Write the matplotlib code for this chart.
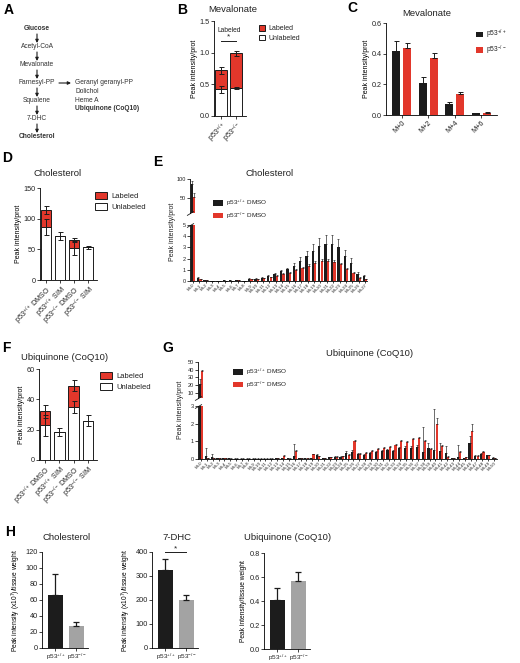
import numpy as np
import matplotlib.pyplot as plt
from matplotlib.patches import Patch

plt.rcParams['font.family'] = ['Liberation Sans', 'DejaVu Sans']
plt.rcParams['mathtext.default'] = 'regular'
plt.rcParams['axes.linewidth'] = 0.6
plt.rcParams['text.color'] = '#222222'

RED = '#e2372b'
BLACK = '#1c1c1c'
GREY = '#a3a3a3'

WT = r'p53$^{+/+}$'
KO = r'p53$^{-/-}$'

# ---- A: pathway
path_main = ['Glucose', 'Acetyl-CoA', 'Mevalonate', 'Farnesyl-PP', 'Squalene', '7-DHC', 'Cholesterol']
path_branch = ['Geranyl geranyl-PP', 'Dolichol', 'Heme A', 'Ubiquinone (CoQ10)']

# ---- B: mevalonate labeled / unlabeled
b_groups = [WT, KO]
b_unl = [0.42, 0.44]
b_unl_err = [0.05, 0.02]
b_lab = [0.30, 0.55]
b_tot_err = [0.05, 0.04]

# ---- C: mevalonate isotopologues
c_labels = ['M+0', 'M+2', 'M+4', 'M+6']
c_wt = [0.42, 0.21, 0.07, 0.01]
c_wt_err = [0.065, 0.035, 0.015, 0.003]
c_ko = [0.44, 0.37, 0.14, 0.015]
c_ko_err = [0.03, 0.035, 0.01, 0.004]

# ---- D: cholesterol labeled / unlabeled
d_groups = [WT + ' DMSO', WT + ' SIM', KO + ' DMSO', KO + ' SIM']
d_unl = [86, 72, 52, 53]
d_unl_err = [13, 7, 12, 3]
d_lab = [28, 0, 13, 0]
d_tot_err = [7, 0, 3, 0]

# ---- E: cholesterol isotopologues
e_labels = ['M+%d' % i for i in range(28)]
e_wt = [86, 0.3, 0.08, 0.03, 0.02, 0.05, 0.06, 0.1, 0.03, 0.2, 0.22, 0.3, 0.45, 0.6,
        0.85, 1.05, 1.35, 1.75, 2.2, 2.7, 3.1, 3.3, 3.3, 3.0, 2.25, 1.65, 0.65, 0.45]
e_wt_err = [10, 0.06, 0.02, 0.01, 0.01, 0.01, 0.01, 0.02, 0.01, 0.05, 0.05, 0.06, 0.08, 0.1,
            0.12, 0.15, 0.22, 0.35, 0.45, 0.6, 0.7, 0.85, 0.8, 0.75, 0.55, 0.4, 0.15, 0.1]
e_ko = [52, 0.15, 0.05, 0.02, 0.02, 0.03, 0.03, 0.05, 0.02, 0.15, 0.18, 0.25, 0.35, 0.45,
        0.6, 0.75, 0.95, 1.15, 1.35, 1.6, 1.75, 1.75, 1.7, 1.5, 1.05, 0.7, 0.3, 0.15]
e_ko_err = [10, 0.03, 0.01, 0.01, 0.01, 0.01, 0.01, 0.01, 0.01, 0.03, 0.03, 0.04, 0.05, 0.06,
            0.08, 0.08, 0.1, 0.12, 0.15, 0.17, 0.18, 0.18, 0.18, 0.15, 0.12, 0.08, 0.05, 0.04]

# ---- F: ubiquinone labeled / unlabeled
f_groups = d_groups
f_unl = [23, 18.5, 35, 26]
f_unl_err = [7, 2.5, 4, 3.5]
f_lab = [9, 0, 14, 0]
f_tot_err = [4, 0, 3.5, 0]

# ---- G: ubiquinone isotopologues
g_labels = ['M+%d' % i for i in range(51)]
g_wt = [22, 0.15, 0.1, 0.06, 0.06, 0.03, 0.02, 0.02, 0.02, 0.02, 0.02, 0.02, 0.02, 0.04,
        0.05, 0.03, 0.15, 0.06, 0.03, 0.05, 0.25, 0.05, 0.1, 0.12, 0.14, 0.35, 0.4, 0.3,
        0.25, 0.35, 0.4, 0.45, 0.5, 0.45, 0.6, 0.65, 0.65, 0.7, 0.4, 0.6, 0.5, 0.45, 0.35,
        0.05, 0.1, 0.05, 0.9, 0.15, 0.3, 0.2, 0.08]
g_wt_err = [6, 0.5, 0.2, 0.02, 0.02, 0.01, 0.01, 0.01, 0.01, 0.01, 0.01, 0.01, 0.01, 0.01,
            0.02, 0.01, 0.7, 0.02, 0.01, 0.02, 0.05, 0.02, 0.03, 0.03, 0.03, 0.08, 0.1, 0.05,
            0.05, 0.06, 0.06, 0.06, 0.06, 0.06, 0.06, 0.06, 0.06, 0.08, 1.4, 0.3, 2.35, 0.45,
            0.4, 0.02, 0.7, 0.02, 0.4, 0.05, 0.05, 0.05, 0.02]
g_ko = [38, 0.05, 0.05, 0.04, 0.04, 0.02, 0.02, 0.02, 0.02, 0.02, 0.02, 0.02, 0.02, 0.03,
        0.18, 0.02, 0.45, 0.03, 0.03, 0.28, 0.15, 0.06, 0.1, 0.12, 0.16, 0.25, 1.0, 0.3,
        0.35, 0.45, 0.55, 0.6, 0.7, 0.8, 1.0, 0.95, 1.15, 1.2, 1.0, 0.55, 2.0, 0.75, 0.1,
        0.05, 0.4, 0.1, 1.6, 0.15, 0.4, 0.2, 0.05]
g_ko_err = [2, 0.02, 0.02, 0.01, 0.01, 0.01, 0.01, 0.01, 0.01, 0.01, 0.01, 0.01, 0.01, 0.01,
            0.03, 0.01, 0.05, 0.01, 0.01, 0.03, 0.03, 0.02, 0.03, 0.03, 0.03, 0.05, 0.05, 0.05,
            0.05, 0.05, 0.05, 0.06, 0.06, 0.06, 0.06, 0.06, 0.06, 0.06, 0.06, 0.05, 0.3, 0.05,
            0.05, 0.02, 0.05, 0.02, 0.4, 0.05, 0.05, 0.05, 0.02]

# ---- H: tissue levels
h_groups = [WT, KO]
h_titles = ['Cholesterol', '7-DHC', 'Ubiquinone (CoQ10)']
h_ylabels = [r'Peak intensity (x10$^{7}$)/tissue weight',
             r'Peak intensity (x10$^{7}$)/tissue weight',
             'Peak intensity/tissue weight']
h_vals = [[66, 28], [325, 200], [0.41, 0.57]]
h_errs = [[26, 4], [45, 20], [0.095, 0.07]]
h_ylims = [120, 400, 0.8]
h_ticks = [np.arange(0, 121, 20), np.arange(0, 401, 100), np.arange(0, 0.81, 0.2)]

W, H = 520, 663
fig = plt.figure(figsize=(W / 100, H / 100), dpi=100)


def px_axes(l, t, r, b):
    return fig.add_axes([l / W, 1 - b / H, (r - l) / W, (b - t) / H])


def ptext(x, y, s, **kw):
    kw.setdefault('ha', 'center')
    kw.setdefault('va', 'center')
    return fig.text(x / W, 1 - y / H, s, **kw)


def clean(ax, size=5.2):
    ax.spines['top'].set_visible(False)
    ax.spines['right'].set_visible(False)
    ax.tick_params(direction='out', length=2, width=0.6, labelsize=size, pad=1,
                   colors='#222222')


def legend_at(x, y, handles, labels, size=5, hl=1.3, hh=0.9):
    fig.legend(handles, labels, loc='upper left', bbox_to_anchor=(x / W, 1 - y / H),
               frameon=False, fontsize=size, handlelength=hl, handleheight=hh,
               handletextpad=0.5, borderpad=0, borderaxespad=0, labelspacing=0.35)


def stacked(ax, unl, unl_err, lab, tot_err, width):
    x = np.arange(len(unl))
    tot = np.array(unl) + np.array(lab)
    ax.bar(x, unl, width, color='white', edgecolor=BLACK, lw=0.7, zorder=2)
    ax.bar(x, lab, width, bottom=unl, color=RED, edgecolor=BLACK, lw=0.7, zorder=2)
    ekw = dict(fmt='none', ecolor=BLACK, elinewidth=0.7, capsize=1.8, capthick=0.7, zorder=3)
    ax.errorbar(x, unl, yerr=unl_err, **ekw)
    has_lab = np.array(lab) > 0
    ax.errorbar(x[has_lab], tot[has_lab], yerr=np.array(tot_err)[has_lab], **ekw)


# letters
for letter, lx, ly in [('A', 9, 10), ('B', 182, 10), ('C', 352, 8), ('D', 7, 158),
                       ('E', 158, 162), ('F', 6, 348), ('G', 168, 348), ('H', 10, 532)]:
    ptext(lx, ly, letter, fontsize=10, fontweight='bold', color='black')

# ---- A
axA = px_axes(0, 0, 170, 150)
axA.set_xlim(0, 170)
axA.set_ylim(150, 0)
axA.axis('off')
for i, name in enumerate(path_main):
    y = 29 + 18 * i
    bold = name in ('Glucose', 'Cholesterol')
    axA.text(37, y, name, ha='center', va='center', fontsize=4.8,
             fontweight='bold' if bold else 'normal', color='#333333')
    if i < len(path_main) - 1:
        axA.annotate('', xy=(37, y + 14), xytext=(37, y + 5),
                     arrowprops=dict(arrowstyle='-|>', lw=0.8, color=BLACK,
                                     mutation_scale=4.5, shrinkA=0, shrinkB=0))
axA.annotate('', xy=(71, 83), xytext=(59, 83),
             arrowprops=dict(arrowstyle='-|>', lw=0.8, color=BLACK,
                             mutation_scale=4.5, shrinkA=0, shrinkB=0))
for j, name in enumerate(path_branch):
    axA.text(75, 83 + 8.5 * j, name, ha='left', va='center', fontsize=4.8,
             fontweight='bold' if 'Ubiquinone' in name else 'normal', color='#333333')

# ---- B
axB = px_axes(214, 21, 246, 116)
clean(axB)
stacked(axB, b_unl, b_unl_err, b_lab, b_tot_err, 0.78)
axB.set_xlim(-0.46, 1.62)
axB.set_ylim(0, 1.5)
axB.set_yticks([0, 0.5, 1.0, 1.5])
axB.set_yticklabels(['0.0', '0.5', '1.0', '1.5'])
axB.set_xticks([0, 1])
axB.set_xticklabels(b_groups, rotation=45, ha='right', rotation_mode='anchor')
axB.set_ylabel('Peak intensity/prot', fontsize=5, labelpad=1.5)
axB.plot([0, 1], [1.18, 1.18], color=BLACK, lw=0.7)
axB.text(0.5, 1.19, '*', ha='center', va='bottom', fontsize=6)
axB.text(0.5, 1.3, 'Labeled', ha='center', va='bottom', fontsize=4.8)
ptext(233, 10, 'Mevalonate', fontsize=6.8)
lab_handles = [Patch(facecolor=RED, edgecolor=BLACK, lw=0.7),
               Patch(facecolor='white', edgecolor=BLACK, lw=0.7)]
legend_at(259, 25, lab_handles, ['Labeled', 'Unlabeled'], size=5, hl=0.8, hh=0.9)

# ---- C
axC = px_axes(386, 23, 497, 115)
clean(axC)
xc = np.arange(len(c_labels))
ekw_up = dict(fmt='none', ecolor=BLACK, elinewidth=0.7, capsize=1.8, capthick=0.7)
axC.bar(xc - 0.2, c_wt, 0.3, color=BLACK)
axC.bar(xc + 0.2, c_ko, 0.3, color=RED)
axC.errorbar(xc - 0.2, c_wt, yerr=[np.zeros(4), c_wt_err], **ekw_up)
axC.errorbar(xc + 0.2, c_ko, yerr=[np.zeros(4), c_ko_err], **ekw_up)
axC.set_xlim(-0.59, 3.59)
axC.set_ylim(0, 0.6)
axC.set_yticks([0, 0.2, 0.4, 0.6])
axC.set_yticklabels(['0.0', '0.2', '0.4', '0.6'])
axC.set_xticks(xc)
axC.set_xticklabels(c_labels, rotation=45, ha='right', rotation_mode='anchor')
axC.set_ylabel('Peak intensity/prot', fontsize=5, labelpad=1.5)
ptext(427, 13, 'Mevalonate', fontsize=6.8)
geno_handles = [Patch(facecolor=BLACK), Patch(facecolor=RED)]
legend_at(476, 28, geno_handles, [WT, KO], size=4.8, hl=1.0, hh=0.9)

# ---- D
axD = px_axes(40, 188, 97, 280)
clean(axD)
stacked(axD, d_unl, d_unl_err, d_lab, d_tot_err, 0.72)
axD.set_xlim(-0.43, 3.64)
axD.set_ylim(0, 150)
axD.set_yticks([0, 50, 100, 150])
axD.set_xticks(range(4))
axD.set_xticklabels(d_groups, rotation=45, ha='right', rotation_mode='anchor')
axD.set_ylabel('Peak intensity/prot', fontsize=5, labelpad=1.5)
ptext(58, 173, 'Cholesterol', fontsize=6.8)
legend_at(95, 192, lab_handles, ['Labeled', 'Unlabeled'], size=5.5, hl=1.6, hh=1.0)


def broken_bars(top_box, bot_box, top_ylim, top_ticks, bot_ylim, bot_ticks,
                wt, wt_err, ko, ko_err, labels, xlim, top_xmax):
    axb = px_axes(*bot_box)
    axt = px_axes(*top_box)
    x = np.arange(len(labels))
    ekw = dict(fmt='none', ecolor=BLACK, elinewidth=0.45, capsize=0.8, capthick=0.45)
    for ax in (axt, axb):
        clean(ax, size=4)
        ax.bar(x - 0.19, wt, 0.36, color=BLACK)
        ax.bar(x + 0.19, ko, 0.36, color=RED)
        ax.errorbar(x - 0.19, wt, yerr=[np.zeros(len(x)), wt_err], **ekw)
        ax.errorbar(x + 0.19, ko, yerr=[np.zeros(len(x)), ko_err], **ekw)
    axb.set_xlim(*xlim)
    axb.set_ylim(*bot_ylim)
    axb.set_yticks(bot_ticks)
    axb.set_xticks(x)
    axb.set_xticklabels(labels, rotation=45, ha='right', rotation_mode='anchor', fontsize=3.2)
    axb.tick_params(axis='x', length=1.2, pad=0.5)
    axt.set_xlim(xlim[0], top_xmax)
    axt.set_ylim(*top_ylim)
    axt.set_yticks(top_ticks)
    axt.spines['bottom'].set_visible(False)
    axt.set_xticks([])
    mk = dict(marker=[(-1, -0.6), (1, 0.6)], markersize=5, linestyle='none',
              color=BLACK, mec=BLACK, mew=0.6, clip_on=False)
    axt.plot([0], [0], transform=axt.transAxes, **mk)
    axb.plot([0], [1], transform=axb.transAxes, **mk)
    return axt, axb


# ---- E
broken_bars((190, 179, 198, 213), (190, 225, 367, 281), (10, 100), [50, 100],
            (0, 5), range(6), e_wt, e_wt_err, e_ko, e_ko_err, e_labels,
            (-0.47, 27.3), 0.79)
ptext(173, 232, 'Peak intensity/prot', fontsize=5, rotation=90)
ptext(270, 173, 'Cholesterol', fontsize=6.8)
legend_at(213, 198, geno_handles, [WT + ' DMSO', KO + ' DMSO'], size=4.6, hl=1.6, hh=0.9)

# ---- F
axF = px_axes(39, 369, 97, 460)
clean(axF)
stacked(axF, f_unl, f_unl_err, f_lab, f_tot_err, 0.72)
axF.set_xlim(-0.43, 3.64)
axF.set_ylim(0, 60)
axF.set_yticks([0, 20, 40, 60])
axF.set_xticks(range(4))
axF.set_xticklabels(f_groups, rotation=45, ha='right', rotation_mode='anchor')
axF.set_ylabel('Peak intensity/prot', fontsize=5, labelpad=1.5)
ptext(65, 357, 'Ubiquinone (CoQ10)', fontsize=6.8)
legend_at(100, 372, lab_handles, ['Labeled', 'Unlabeled'], size=5.5, hl=1.6, hh=1.0)

# ---- G
broken_bars((198, 362, 206, 398), (198, 406, 497, 459), (3.5, 50), [10, 20, 30, 40, 50],
            (0, 3), range(4), g_wt, g_wt_err, g_ko, g_ko_err, g_labels,
            (-0.51, 50.5), 0.86)
ptext(180, 410, 'Peak intensity/prot', fontsize=5, rotation=90)
ptext(370, 354, 'Ubiquinone (CoQ10)', fontsize=6.8)
legend_at(233, 367, geno_handles, [WT + ' DMSO', KO + ' DMSO'], size=4.6, hl=1.6, hh=0.9)

# ---- H
h_boxes = [(42, 552, 88, 648), (152, 552, 198, 648), (264, 553, 310, 649)]
h_title_x = [67, 177, 288]
for k in range(3):
    ax = px_axes(*h_boxes[k])
    clean(ax, size=5.3)
    ax.tick_params(axis='x', labelsize=4.6, pad=0.8)
    ax.bar([0, 1], h_vals[k], 0.72, color=[BLACK, GREY])
    ax.errorbar([0, 1], h_vals[k], yerr=[[0, 0], h_errs[k]], fmt='none', ecolor=BLACK,
                elinewidth=0.9, capsize=2.2, capthick=0.9)
    ax.set_xlim(-0.64, 1.55)
    ax.set_ylim(0, h_ylims[k])
    ax.set_yticks(h_ticks[k])
    if k == 2:
        ax.set_yticklabels(['0.0', '0.2', '0.4', '0.6', '0.8'])
    ax.set_xticks([0, 1])
    ax.set_xticklabels(h_groups)
    ax.set_ylabel(h_ylabels[k], fontsize=4.8, labelpad=1.5)
    ptext(h_title_x[k], 538, h_titles[k], fontsize=6.8)
    if k == 1:
        ax.plot([0, 1], [398, 398], color=BLACK, lw=0.7, clip_on=False)
        ax.text(0.5, 400, '*', ha='center', va='bottom', fontsize=6)

fig.savefig('out.png', dpi=100)
